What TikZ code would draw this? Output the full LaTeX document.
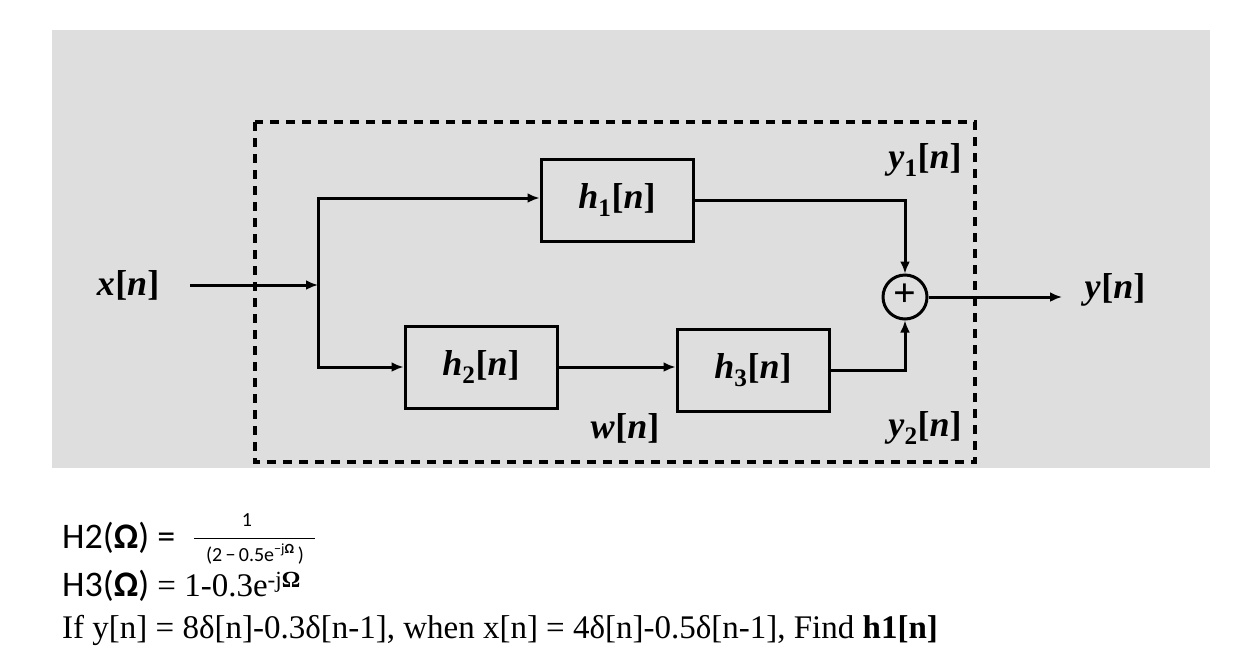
\documentclass[tikz,border=0pt]{standalone}
\usepackage{fontspec}
\setmainfont{Liberation Serif}
\newfontfamily\calib{Carlito}
\usetikzlibrary{arrows.meta}
\definecolor{bg}{RGB}{222,222,222}
\newcommand{\lb}[2]{\textbf{\textit{#1}\textsubscript{#2}[\textit{n}]}}
\tikzset{blk/.style={draw,line width=3pt,minimum width=152pt,minimum height=82pt,inner sep=0},
 wire/.style={line width=3pt},
 arr/.style={wire,-{Latex[length=12pt,width=10pt]}},
 lbl/.style={font=\fontsize{36}{36}\selectfont}}
\begin{document}
\begin{tikzpicture}[x=1pt,y=-1pt]
\useasboundingbox (0,0) rectangle (1252,662);
\fill[bg] (52,30) rectangle (1210,468);
\draw[line width=3.5pt,dash pattern=on 9pt off 7pt] (255,122) rectangle (975,462);
\node[blk] (h1) at (617,200) {};
\node[lbl] at (h1) {\lb{h}{1}};
\node[blk] (h2) at (481,367) {};
\node[lbl] at (h2) {\lb{h}{2}};
\node[blk] (h3) at (753,370) {};
\node[lbl] at (h3) {\lb{h}{3}};
\node[draw,circle,line width=3pt,minimum size=44pt,inner sep=0] (s) at (905,297) {};
\node[font=\fontsize{40}{40}\selectfont\bfseries,inner sep=0] at (905,295) {+};
\node[lbl,inner sep=0] (x) at (128,285) {\lb{x}{}};
\node[lbl] (y) at (1115,290) {\lb{y}{}};
\coordinate (b) at (318,285);
\draw[arr] (190,285) -- (b);
\draw[arr] (318,285) -- (318,198) -- (h1.west|-0,198);
\draw[arr] (318,285) -- (318,367) -- (h2.west);
\draw[arr] (h2.east) -- (h3.west|-h2.east);
\draw[arr] (h1.east) -- (905,200) -- (s.north);
\draw[arr] (h3.east) -- (905,370) -- (s.south);
\draw[arr] (s.east) -- (1062,297);
\node[lbl] at (925,160) {\lb{y}{1}};
\node[lbl] at (925,428) {\lb{y}{2}};
\node[lbl] at (625,428) {\lb{w}{}};
\node[anchor=west,font=\calib\fontsize{36}{40}\selectfont,inner sep=0] (eq) at (62,538) {H2(\textbf{Ω}) = };
\node[font=\calib\fontsize{20}{20}\selectfont] (num) at (247,520) {1};
\draw[line width=1pt] (194,538) -- (315,538);
\node[font=\calib\fontsize{20}{20}\selectfont] (den) at (255,554) {(2\,\textminus\,0.5e\textsuperscript{\textminus j\textbf{Ω}}\,)};
\node[anchor=west,inner sep=0,font=\fontsize{33}{36}\selectfont] at (62,586) {{\calib\fontsize{36}{40}\selectfont H3(\textbf{Ω})} = 1-0.3e\textsuperscript{-j\textbf{Ω}}};
\node[anchor=west,inner sep=0,font=\fontsize{33}{36}\selectfont] at (62,630) {If y[n] = 8δ[n]-0.3δ[n-1], when x[n] = 4δ[n]-0.5δ[n-1], Find \textbf{h1[n]}};
\end{tikzpicture}
\end{document}
